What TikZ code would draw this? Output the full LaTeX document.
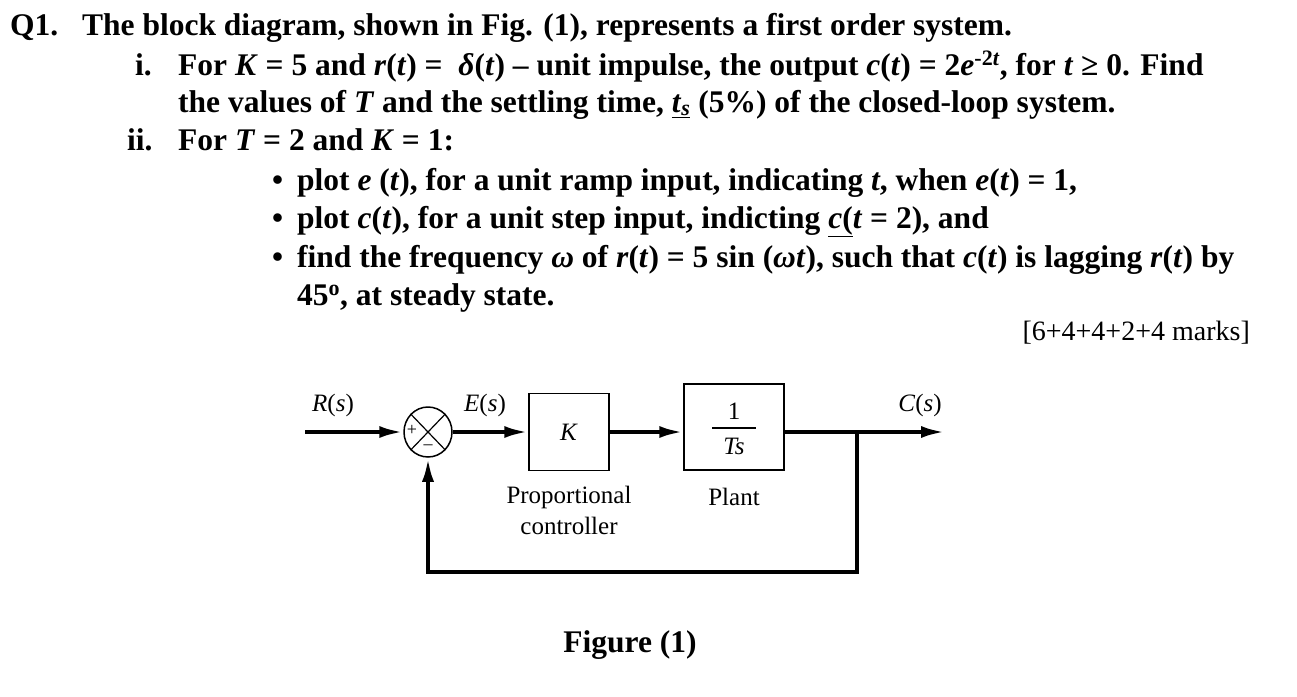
\documentclass[tikz,border=0pt]{standalone}
\usepackage{fontspec}
\setmainfont{Liberation Serif}
\usetikzlibrary{arrows.meta,shapes.geometric}
\begin{document}
\begin{tikzpicture}[x=1pt,y=-1pt,
 t/.style={anchor=base west,inner sep=0pt,font=\fontsize{31.5}{34}\selectfont\bfseries},
 d/.style={inner sep=0pt,font=\fontsize{25}{28}\selectfont},
 blk/.style={draw,line width=1.5pt,inner sep=0pt},
 w/.style={line width=4pt},
 a/.style={w,-{Latex[length=24pt,width=12pt]}}]
\useasboundingbox (0,0) rectangle (1297,696);
\node[t] (q) at (10,35) {Q1.};
\node[t] (l1) at (82,35) {The block diagram, shown in Fig. (1), represents a first order system.};
\node[t] (i) at (135,75) {i.};
\node[t] (l2) at (178,75) {For \textit{K} = 5 and \textit{r}(\textit{t}) = \ \textit{δ}(\textit{t}) – unit impulse, the output \textit{c}(\textit{t}) = 2\textit{e}\textsuperscript{-2\textit{t}}, for \textit{t} ≥ 0. Find};
\node[t] (l3) at (178,112) {the values of \textit{T} and the settling time, \underline{\textit{t}\textsubscript{\textit{s}}} (5\%) of the closed-loop system.};
\node[t] (ii) at (127,150) {ii.};
\node[t] (l4) at (178,150) {For \textit{T} = 2 and \textit{K} = 1:};
\node[t] (b1) at (272,190) {•};
\node[t] (l5) at (297,190) {plot \textit{e} (\textit{t}), for a unit ramp input, indicating \textit{t}, when \textit{e}(\textit{t}) = 1,};
\node[t] (b2) at (272,228) {•};
\node[t] (l6) at (297,228) {plot \textit{c}(\textit{t}), for a unit step input, indicting \underline{\textit{c}(}\textit{t} = 2), and};
\node[t] (b3) at (272,267) {•};
\node[t] (l7) at (297,267) {find the frequency \textit{ω} of \textit{r}(\textit{t}) = 5 sin (\textit{ωt}), such that \textit{c}(\textit{t}) is lagging \textit{r}(\textit{t}) by};
\node[t] (l8) at (297,305) {45\textsuperscript{o}, at steady state.};
\node[inner sep=0pt,anchor=base east,font=\fontsize{28}{30}\selectfont] (mk) at (1250,340) {[6+4+4+2+4 marks]};
\node[t,anchor=base] (fig) at (630,652) {Figure (1)};
% diagram
\coordinate (in) at (305,432);
\node[draw,ellipse,line width=1.5pt,minimum width=48pt,minimum height=50pt,inner sep=0pt] (sum) at (428,432) {};
\draw[line width=1.2pt] (sum.north west)--(sum.south east) (sum.north east)--(sum.south west);
\node[font=\fontsize{18}{18}\selectfont,inner sep=0pt] (pl) at (412,430) {+};
\node[font=\fontsize{18}{18}\selectfont,inner sep=0pt] (mi) at (428,447) {–};
\node[blk,minimum width=80pt,minimum height=77pt] (K) at (569,432) {};
\node[d] (Kt) at (569,432) {\textit{K}};
\node[blk,minimum width=100pt,minimum height=86pt] (P) at (734,427) {};
\node[d] (n1) at (734,411) {1};
\node[d] (n2) at (734,446) {\textit{Ts}};
\draw[line width=1.2pt] (712,428)--(756,428);
\coordinate (out) at (945,432);
\coordinate (br) at (857,432);
\coordinate (c1) at (857,572);
\coordinate (c2) at (428,572);
\draw[a] (in) -- (sum.west);
\draw[a] (sum.east) -- (K.west);
\draw[a] (K.east) -- (K.east -| P.west);
\draw[a] (P.east |- out) -- (out);
\draw[a] (br) -- (c1) -- (c2) -- (sum.south);
\node[d] (R) at (333,405) {\textit{R}(\textit{s})};
\node[d] (E) at (485,405) {\textit{E}(\textit{s})};
\node[d] (C) at (920,405) {\textit{C}(\textit{s})};
\node[d] (pc1) at (569,497) {Proportional};
\node[d] (pc2) at (569,526) {controller};
\node[d] (pt) at (734,497) {Plant};
\end{tikzpicture}
\end{document}
